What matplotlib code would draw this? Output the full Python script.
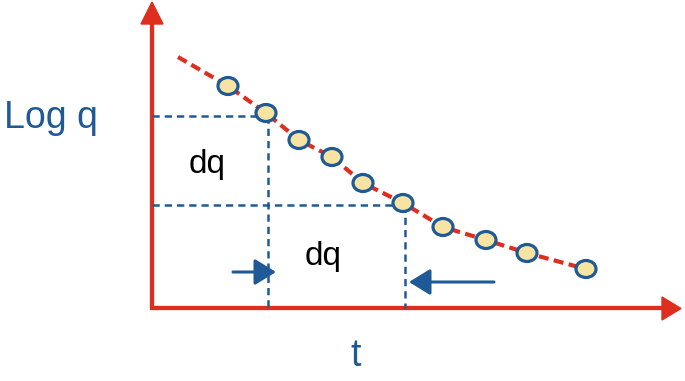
import matplotlib
matplotlib.use("Agg")
import matplotlib.pyplot as plt
from matplotlib.patches import Ellipse, Polygon

# sketch of log q vs t, in pixel-like units (y grows downward)
RED = "#DE2E1F"
BLUE = "#1F5A96"
FILL = "#F8E4A2"

# measured points
t_pts = [228, 266, 299, 332, 363, 403, 443, 486, 527, 586]
logq_pts = [86, 113, 140, 157, 183, 203, 227, 240, 253, 269]

# the fitted dashed curve (starts a bit before the first point)
curve_t = [178] + t_pts + [596]
curve_logq = [57] + logq_pts + [272]

# the two reference levels
ref_t = [266, 403]
ref_logq = [116, 205]

origin_t, origin_logq = 152, 308

fig = plt.figure(figsize=(6.85, 3.81), dpi=100)
ax = fig.add_axes([0, 0, 1, 1])
ax.set_xlim(0, 685)
ax.set_ylim(381, 0)
ax.axis("off")

# axes with arrow heads
ax.plot([origin_t, origin_t], [origin_logq + 2, 20], color=RED, lw=3.1, solid_capstyle="butt")
ax.add_patch(Polygon([[141, 24], [163, 24], [152, 2]], closed=True, color=RED))
ax.plot([origin_t - 2, 665], [origin_logq, origin_logq], color=RED, lw=3.1, solid_capstyle="butt")
ax.add_patch(Polygon([[662, 297], [662, 320], [681, 308.5]], closed=True, color=RED))

# dashed guides
for tx, qy in zip(ref_t, ref_logq):
    ax.plot([origin_t, tx], [qy, qy], color=BLUE, lw=1.8, dashes=(2.9, 2.0))
    ax.plot([tx + 2, tx + 2], [qy, origin_logq], color=BLUE, lw=1.8, dashes=(2.9, 2.0))

# fitted curve
ax.plot(curve_t, curve_logq, color=RED, lw=3.0, dashes=(2.4, 1.3), zorder=3)

# data points
for tx, qy in zip(t_pts, logq_pts):
    ax.add_patch(Ellipse((tx, qy), 20, 17, facecolor=FILL, edgecolor=BLUE, lw=2.3, zorder=4))

# small arrows pointing to the guides
arrow_style = "-|>,head_length=1.3,head_width=0.8"
ax.annotate("", xy=(276, 272), xytext=(233, 272),
            arrowprops=dict(arrowstyle=arrow_style, color=BLUE, lw=2.2, shrinkA=0, shrinkB=0))
ax.annotate("", xy=(409, 282), xytext=(494, 282),
            arrowprops=dict(arrowstyle=arrow_style, color=BLUE, lw=2.2, shrinkA=0, shrinkB=0))

font = "Liberation Sans"
ax.text(4, 118, "Log q", color=BLUE, fontsize=27, family=font, va="center", ha="left")
ax.text(356, 356, "t", color=BLUE, fontsize=27, family=font, va="center", ha="center")
ax.text(207, 164, "dq", color="black", fontsize=24, family=font, va="center", ha="center")
ax.text(323, 256, "dq", color="black", fontsize=24, family=font, va="center", ha="center")

fig.savefig("out.png", dpi=100)
